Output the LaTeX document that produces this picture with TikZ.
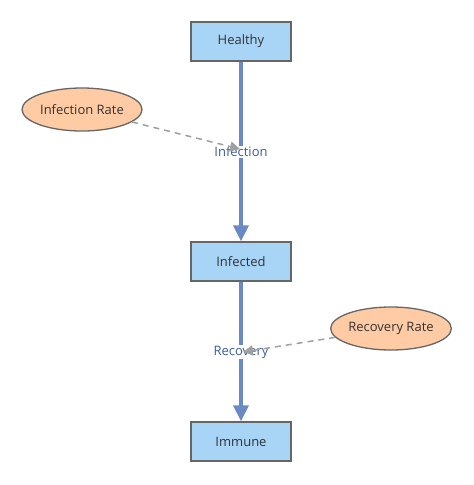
\documentclass[tikz,border=0pt]{standalone}
\usepackage{fontspec}
\setmainfont{Open Sans}
\usetikzlibrary{arrows.meta,shapes.geometric}
\definecolor{boxfill}{HTML}{A8D4F6}
\definecolor{edgegray}{HTML}{666666}
\definecolor{ellfill}{HTML}{FFCBA4}
\definecolor{flowblue}{HTML}{6A8AC6}
\definecolor{labelblue}{HTML}{3F5C9E}
\definecolor{txt}{HTML}{333333}
\definecolor{dashgray}{HTML}{A0A0A0}
\tikzset{
  stock/.style={draw=edgegray, line width=1.3pt, fill=boxfill, minimum width=100pt, minimum height=39pt, inner sep=0pt, text=txt, font=\fontsize{13}{15}\selectfont},
  rate/.style={ellipse, draw=edgegray, line width=1.3pt, fill=ellfill, minimum width=120pt, minimum height=43pt, inner sep=0pt, text=txt, font=\fontsize{13}{15}\selectfont},
  flow/.style={draw=flowblue, line width=3.5pt, -{Triangle[width=15pt,length=16pt]}},
  flowlabel/.style={fill=white, text=labelblue, inner sep=1pt, font=\fontsize{13}{15}\selectfont},
  link/.style={draw=dashgray, line width=1.5pt, dash pattern=on 6pt off 5pt, -{Triangle[width=10pt,length=10pt]}}
}
\begin{document}
\begin{tikzpicture}[x=1pt,y=-1pt]
\useasboundingbox (0,0) rectangle (474,485);
\node[stock] (healthy) at (241,41.5) {Healthy};
\node[stock] (infected) at (241,261.5) {Infected};
\node[stock] (immune) at (241,441.5) {Immune};
\node[rate] (irate) at (82,109.5) {Infection Rate};
\node[rate] (rrate) at (391,328.5) {Recovery Rate};
\draw[flow] (healthy.south) -- (infected.north);
\draw[flow] (infected.south) -- (immune.north);
\node[flowlabel] (infection) at (241,152) {Infection};
\node[flowlabel] (recovery) at (241,352) {Recovery};
\coordinate (itip) at (240,149);
\coordinate (rtip) at (243,352);
\draw[link] (irate) -- (itip);
\draw[link] (rrate) -- (rtip);
\end{tikzpicture}
\end{document}
